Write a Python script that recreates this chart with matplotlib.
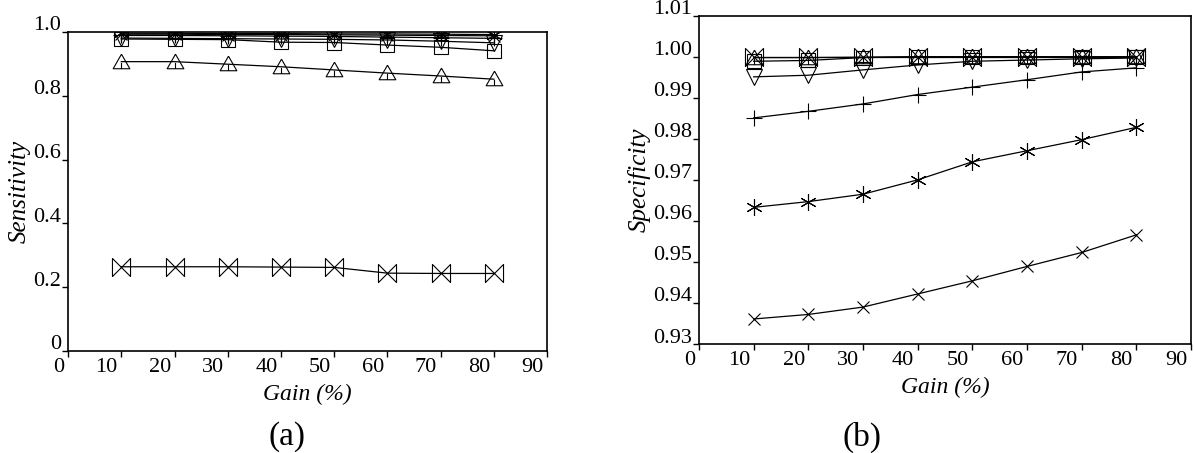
import matplotlib
matplotlib.use('Agg')
import matplotlib.pyplot as plt
import matplotlib.transforms as mtransforms
from matplotlib.path import Path

# gain values on the x axis
gain = [10, 20, 30, 40, 50, 60, 70, 80]

# (a) sensitivity per method
sens_star = [0.996, 0.996, 0.995, 0.995, 0.994, 0.994, 0.993, 0.992]
sens_x = [0.993, 0.993, 0.992, 0.992, 0.991, 0.990, 0.989, 0.988]
sens_plus = [0.989, 0.989, 0.988, 0.987, 0.986, 0.984, 0.982, 0.980]
sens_tridown = [0.981, 0.980, 0.979, 0.978, 0.977, 0.975, 0.971, 0.966]
sens_square = [0.978, 0.977, 0.976, 0.968, 0.967, 0.959, 0.952, 0.941]
sens_triup = [0.907, 0.907, 0.899, 0.891, 0.881, 0.871, 0.862, 0.852]
sens_bowtie = [0.264, 0.264, 0.264, 0.263, 0.262, 0.244, 0.243, 0.243]

# (b) specificity per method
spec_star = [0.9633, 0.9647, 0.9665, 0.9700, 0.9744, 0.9771, 0.9798, 0.9828]
spec_x = [0.9361, 0.9372, 0.9390, 0.9422, 0.9454, 0.9489, 0.9523, 0.9566]
spec_plus = [0.9851, 0.9867, 0.9885, 0.9908, 0.9926, 0.9944, 0.9963, 0.9973]
spec_tridown = [0.9951, 0.9955, 0.9968, 0.9980, 0.9989, 0.9992, 0.9995, 0.9997]
spec_square = [0.9989, 0.9991, 0.9998, 1.0000, 1.0000, 1.0000, 1.0000, 1.0000]
spec_triup = [0.9998, 0.9998, 0.9999, 1.0000, 1.0000, 1.0000, 1.0000, 1.0000]
spec_bowtie = [1.0000, 1.0000, 1.0000, 1.0000, 1.0000, 1.0000, 1.0000, 1.0000]

# custom marker shapes
bowtie = Path([(-1, -1), (1, 1), (1, -1), (-1, 1), (-1, -1)],
              [Path.MOVETO, Path.LINETO, Path.LINETO, Path.LINETO, Path.LINETO])
tri_stem = Path([(0, 1), (-1, -0.75), (1, -0.75), (0, 1), (0, -0.75), (0, -0.05)],
                [Path.MOVETO, Path.LINETO, Path.LINETO, Path.LINETO, Path.MOVETO, Path.LINETO])

plt.rcParams['font.family'] = 'Liberation Serif'

fig = plt.figure(figsize=(11.94, 4.53), dpi=100)
ax1 = fig.add_axes([0.0570, 0.2252, 0.4012, 0.7042])
ax2 = fig.add_axes([0.5854, 0.2406, 0.4121, 0.7247])

series_a = [(sens_bowtie, bowtie, 13), (sens_triup, tri_stem, 12), (sens_square, 's', 10),
            (sens_tridown, 'v', 11), (sens_plus, '+', 12), (sens_x, 'x', 9), (sens_star, (6, 2, 0), 12)]
series_b = [(spec_x, 'x', 9), (spec_star, (6, 2, 0), 12), (spec_plus, '+', 12),
            (spec_tridown, 'v', 11), (spec_square, 's', 10), (spec_triup, tri_stem, 12),
            (spec_bowtie, bowtie, 13)]

for ax, series in [(ax1, series_a), (ax2, series_b)]:
    for vals, mk, ms in series:
        ax.plot(gain, vals, color='black', lw=0.9, marker=mk, markersize=ms,
                markerfacecolor='none', markeredgecolor='black', markeredgewidth=0.8)

ax1.set_xlim(0, 90)
ax1.set_ylim(0, 1.0)
ax1.set_yticks([0, 0.2, 0.4, 0.6, 0.8, 1.0])
ax1.set_yticklabels(['0', '0.2', '0.4', '0.6', '0.8', '1.0'])
ax1.set_ylabel('Sensitivity', fontsize=18, style='italic', labelpad=2)

ax2.set_xlim(0, 90)
ax2.set_ylim(0.93, 1.01)
ax2.set_yticks([0.93, 0.94, 0.95, 0.96, 0.97, 0.98, 0.99, 1.00, 1.01])
ax2.set_yticklabels(['0.93', '0.94', '0.95', '0.96', '0.97', '0.98', '0.99', '1.00', '1.01'])
ax2.set_ylabel('Specificity', fontsize=18, style='italic', labelpad=2)

xoff = mtransforms.ScaledTranslation(-0.035, 0, fig.dpi_scale_trans)
yoff = mtransforms.ScaledTranslation(0, 0.015, fig.dpi_scale_trans)
for ax in [ax1, ax2]:
    ax.set_xticks(range(0, 100, 10))
    ax.set_xlabel('Gain (%)', fontsize=17, style='italic', labelpad=5)
    ax.tick_params(direction='out', length=4, width=1, labelsize=16, pad=1,
                   top=False, right=False)
    for sp in ax.spines.values():
        sp.set_linewidth(1.2)
    for lab in ax.get_xticklabels():
        lab.set_horizontalalignment('right')
        lab.set_transform(lab.get_transform() + xoff)
    for lab in ax.get_yticklabels():
        lab.set_verticalalignment('baseline')
        lab.set_transform(lab.get_transform() + yoff)

fig.text(287 / 1194, 1 - 437 / 453, '(a)', fontsize=24, ha='center', va='center')
fig.text(862 / 1194, 1 - 437 / 453, '(b)', fontsize=24, ha='center', va='center')

fig.savefig('out.png', dpi=100)
